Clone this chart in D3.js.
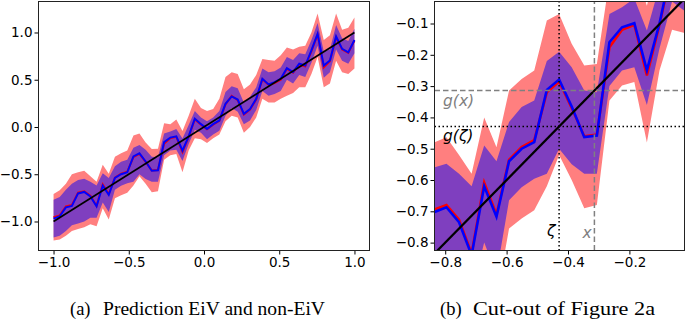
<!DOCTYPE html>
<html lang='en'>
<head>
<meta charset='utf-8'>
<title>EiV cut-out</title>
<script src='https://cdn.jsdelivr.net/npm/d3@7'></script>
<style>
  body { margin: 0; background: #fff; }
  .tick text { font-family: 'DejaVu Sans', sans-serif; font-size: 13.5px; fill: #000; }
</style>
</head>
<body>
<script>
// input grid (50 points on [-1,1])
var xVals = [-1.000,-0.959,-0.918,-0.878,-0.837,-0.796,-0.755,-0.714,-0.673,-0.633,
             -0.592,-0.551,-0.510,-0.469,-0.429,-0.388,-0.347,-0.306,-0.265,-0.224,
             -0.184,-0.143,-0.102,-0.061,-0.020, 0.020, 0.061, 0.102, 0.143, 0.184,
              0.224, 0.265, 0.306, 0.347, 0.388, 0.429, 0.469, 0.510, 0.551, 0.592,
              0.633, 0.673, 0.714, 0.755, 0.796, 0.837, 0.878, 0.918, 0.959, 1.000];
// EiV prediction (blue) and band
var eivMean = [-0.97,-0.945,-0.85,-0.835,-0.703,-0.687,-0.735,-0.84,-0.62,-0.717,
               -0.54,-0.50,-0.479,-0.312,-0.279,-0.365,-0.463,-0.458,-0.16,-0.112,
               -0.099,-0.25,-0.10,0.087,0.03,-0.02,0.03,0.069,0.245,0.323,
               0.29,0.139,0.19,0.298,0.51,0.45,0.474,0.51,0.622,0.58,
               0.669,0.65,0.81,0.986,0.65,0.704,0.958,0.827,0.79,0.92];
var eivUpper = [-0.77,-0.74,-0.665,-0.60,-0.56,-0.548,-0.58,-0.62,-0.49,-0.54,
                -0.415,-0.367,-0.346,-0.22,-0.19,-0.24,-0.314,-0.32,-0.07,-0.048,
                -0.02,-0.122,0.02,0.17,0.10,0.06,0.10,0.17,0.37,0.43,
                0.41,0.26,0.32,0.42,0.62,0.58,0.59,0.63,0.74,0.71,
                0.78,0.77,0.92,1.10,0.80,0.82,1.08,0.94,0.91,1.04];
var eivLower = [-1.17,-1.15,-1.10,-1.04,-1.02,-1.00,-0.96,-0.96,-0.80,-0.90,
                -0.665,-0.623,-0.596,-0.58,-0.50,-0.55,-0.58,-0.58,-0.30,-0.25,
                -0.24,-0.36,-0.18,-0.03,-0.06,-0.13,-0.08,-0.04,0.12,0.20,
                0.16,0.03,0.07,0.18,0.38,0.33,0.35,0.38,0.50,0.46,
                0.55,0.53,0.68,0.86,0.52,0.58,0.82,0.70,0.67,0.78];
// non-EiV prediction (red) and band
var nonMean = [-0.955,-0.935,-0.84,-0.825,-0.695,-0.68,-0.727,-0.835,-0.608,-0.71,
               -0.535,-0.495,-0.473,-0.32,-0.285,-0.37,-0.46,-0.455,-0.176,-0.12,
               -0.104,-0.266,-0.105,0.08,0.025,-0.025,0.025,0.065,0.24,0.33,
               0.285,0.13,0.185,0.29,0.505,0.445,0.465,0.50,0.615,0.575,
               0.66,0.64,0.80,0.98,0.63,0.695,0.95,0.82,0.785,0.915];
var nonUpper = [-0.71,-0.67,-0.60,-0.50,-0.48,-0.463,-0.52,-0.58,-0.40,-0.495,
                -0.314,-0.277,-0.25,-0.09,-0.07,-0.165,-0.234,-0.229,0.04,0.03,
                0.08,-0.043,0.12,0.30,0.20,0.17,0.19,0.30,0.53,0.58,
                0.56,0.40,0.45,0.55,0.72,0.71,0.70,0.76,0.84,0.82,
                0.85,0.86,1.00,1.20,0.92,0.97,1.20,1.03,1.05,1.16];
var nonLower = [-1.20,-1.19,-1.15,-1.10,-1.08,-1.06,-1.03,-1.05,-0.86,-0.98,
                -0.755,-0.723,-0.697,-0.62,-0.52,-0.60,-0.69,-0.68,-0.346,-0.298,
                -0.287,-0.48,-0.25,-0.12,-0.13,-0.17,-0.12,-0.08,0.06,0.12,
                0.10,-0.06,0.00,0.10,0.30,0.26,0.26,0.30,0.33,0.36,
                0.42,0.42,0.56,0.74,0.42,0.46,0.70,0.58,0.56,0.62];
var truthLine = [-1.0, 1.0];

var leftTicks = [-1.0, -0.5, 0.0, 0.5, 1.0];
var rightXTicks = [-0.8, -0.6, -0.4, -0.2];
var rightYTicks = [-0.8, -0.7, -0.6, -0.5, -0.4, -0.3, -0.2, -0.1];
var zeta = -0.429, xPoint = -0.314;
var captions = [['(a)', 'Prediction EiV and non-EiV'], ['(b)', 'Cut-out of Figure 2a']];

var rows = xVals.map(function(x, i) {
  return {x: x, em: eivMean[i], eu: eivUpper[i], el: eivLower[i],
          nm: nonMean[i], nu: nonUpper[i], nl: nonLower[i]};
});

var svg = d3.select('body').append('svg').attr('width', 685).attr('height', 323);

function panel(id, sx, sy, xt, yt, lw) {
  var x0 = sx.range()[0], x1 = sx.range()[1], y0 = sy.range()[1], y1 = sy.range()[0];
  svg.append('clipPath').attr('id', id).append('rect')
     .attr('x', x0).attr('y', y0).attr('width', x1 - x0).attr('height', y1 - y0);
  var g = svg.append('g').attr('clip-path', 'url(#' + id + ')');

  g.append('path').datum(rows).attr('fill', '#ff7f7f')
   .attr('d', d3.area().x(d => sx(d.x)).y0(d => sy(d.nl)).y1(d => sy(d.nu)));
  g.append('path').datum(rows).attr('fill', '#0000ff').attr('fill-opacity', 0.5)
   .attr('d', d3.area().x(d => sx(d.x)).y0(d => sy(d.el)).y1(d => sy(d.eu)));
  g.append('path').datum(rows).attr('fill', 'none').attr('stroke', '#ff0000').attr('stroke-width', lw)
   .attr('d', d3.line().x(d => sx(d.x)).y(d => sy(d.nm)));
  g.append('path').datum(rows).attr('fill', 'none').attr('stroke', '#0000ff').attr('stroke-width', lw)
   .attr('d', d3.line().x(d => sx(d.x)).y(d => sy(d.em)));
  g.append('line').attr('stroke', '#000').attr('stroke-width', lw * 0.85)
   .attr('x1', sx(truthLine[0])).attr('y1', sy(truthLine[0]))
   .attr('x2', sx(truthLine[1])).attr('y2', sy(truthLine[1]));

  var ax = svg.append('g').attr('transform', 'translate(0,' + y1 + ')')
    .call(d3.axisBottom(sx).tickValues(xt).tickFormat(d3.format('.1f')).tickSize(4).tickPadding(3));
  var ay = svg.append('g').attr('transform', 'translate(' + x0 + ',0)')
    .call(d3.axisLeft(sy).tickValues(yt).tickFormat(d3.format('.1f')).tickSize(4).tickPadding(2));
  [ax, ay].forEach(function(a) {
    a.select('.domain').remove();
    a.selectAll('.tick line').attr('stroke', '#000');
  });
  svg.append('rect').attr('x', x0).attr('y', y0).attr('width', x1 - x0).attr('height', y1 - y0)
     .attr('fill', 'none').attr('stroke', '#222').attr('stroke-width', 1);
  return g;
}

// (a) full view
var sxA = d3.scaleLinear().domain([-1.1, 1.1]).range([38.5, 369.5]);
var syA = d3.scaleLinear().domain([-1.307, 1.328]).range([250.5, 1.5]);
panel('clipA', sxA, syA, leftTicks, leftTicks, 2);

// (b) cut-out
var sxB = d3.scaleLinear().domain([-0.8349, -0.0205]).range([434.5, 684.5]);
var syB = d3.scaleLinear().domain([-0.8252, -0.0297]).range([250.5, 1.5]);
var gB = panel('clipB', sxB, syB, rightXTicks, rightYTicks, 2.6);

gB.append('line').attr('x1', sxB.range()[0]).attr('x2', sxB.range()[1])
  .attr('y1', syB(xPoint)).attr('y2', syB(xPoint))
  .attr('stroke', '#808080').attr('stroke-width', 1.5).attr('stroke-dasharray', '5.5,3');
gB.append('line').attr('x1', sxB(xPoint)).attr('x2', sxB(xPoint))
  .attr('y1', syB.range()[0]).attr('y2', syB.range()[1])
  .attr('stroke', '#808080').attr('stroke-width', 1.5).attr('stroke-dasharray', '5.5,3');
gB.append('line').attr('x1', sxB.range()[0]).attr('x2', sxB.range()[1])
  .attr('y1', syB(zeta)).attr('y2', syB(zeta))
  .attr('stroke', '#000').attr('stroke-width', 1.5).attr('stroke-dasharray', '1.5,2.5');
gB.append('line').attr('x1', sxB(zeta)).attr('x2', sxB(zeta))
  .attr('y1', syB.range()[0]).attr('y2', syB.range()[1])
  .attr('stroke', '#000').attr('stroke-width', 1.5).attr('stroke-dasharray', '1.5,2.5');

function label(x, y, txt, col) {
  svg.append('text').attr('x', x).attr('y', y).text(txt)
     .attr('font-family', 'DejaVu Sans').attr('font-style', 'italic')
     .attr('font-size', 15.5).attr('fill', col);
}
label(443, 106, 'g(x)', '#808080');
label(443, 141, 'g(ζ)', '#000');
label(sxB(zeta) - 12, 236, 'ζ', '#000');
label(sxB(xPoint) - 12, 238, 'x', '#808080');

// captions
var capX = [[70, 103, 222], [440, 473, 182]];
captions.forEach(function(c, i) {
  svg.append('text').attr('y', 315).attr('font-family', 'Liberation Serif')
    .attr('font-size', 18.5).attr('fill', '#000')
    .attr('x', capX[i][0]).text(c[0]);
  svg.append('text').attr('y', 315).attr('font-family', 'Liberation Serif')
    .attr('font-size', 18.5).attr('fill', '#000')
    .attr('x', capX[i][1]).attr('textLength', capX[i][2]).attr('lengthAdjust', 'spacingAndGlyphs')
    .text(c[1]);
});
</script>
</body>
</html>
